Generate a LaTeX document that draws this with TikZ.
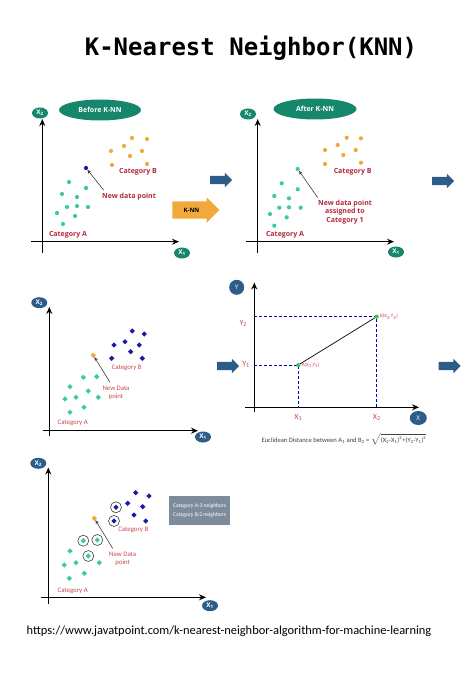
\documentclass[tikz,border=0pt]{standalone}
\usepackage{fontspec}
\setmainfont{Open Sans}
\newfontfamily\carlito{Carlito}
\newfontfamily\titlemono{DejaVu Sans Mono}
\usepackage{tikz}
\usetikzlibrary{positioning}
\usetikzlibrary{arrows,arrows.meta}
\usetikzlibrary{shapes.geometric,shapes.arrows}

\definecolor{knnteal}{RGB}{22,135,107}
\definecolor{knnmint}{RGB}{60,203,160}
\definecolor{knnorange}{RGB}{242,169,59}
\definecolor{knnred}{RGB}{179,38,62}
\definecolor{knnpink}{RGB}{200,70,78}
\definecolor{knnnavy}{RGB}{44,93,138}
\definecolor{knnblue}{RGB}{26,26,168}
\definecolor{knngrey}{RGB}{125,140,155}
\definecolor{knngreen}{RGB}{60,200,60}

\begin{document}
\begin{tikzpicture}[x=1pt,y=-1pt,
  axis/.style={line width=1.2pt,-{Stealth[length=7pt,width=6pt]}},
  pointer/.style={line width=0.6pt,draw=black!75,-{Stealth[length=4pt,width=3.5pt]}},
  tealtag/.style={ellipse,fill=knnteal,text=white,inner sep=0pt,minimum width=16pt,minimum height=11pt,font=\bfseries\fontsize{6.5}{6.5}\selectfont},
  navytag/.style={tealtag,fill=knnnavy},
  dot/.style={circle,inner sep=0pt,minimum size=4.2pt},
  gem/.style={diamond,inner sep=0pt,minimum size=5.5pt},
  boldlbl/.style={text=knnred,font=\bfseries\fontsize{7}{8.5}\selectfont,align=center},
  thinlbl/.style={text=knnpink,font=\carlito\fontsize{6.8}{8}\selectfont,align=center},
  guide/.style={draw=blue!70!black,line width=0.9pt,densely dashed},
  bluearrow/.style={single arrow,fill=knnnavy,inner xsep=0pt,inner ysep=4pt,minimum height=22pt,single arrow head extend=3pt}
]
\useasboundingbox (0,0) rectangle (474,679);

\node[font=\titlemono\bfseries\fontsize{24}{24}\selectfont] (title) at (251,48) {K-Nearest Neighbor(KNN)};

% before K-NN
\node[tealtag,minimum width=82pt,minimum height=21pt,font=\bfseries\fontsize{7}{7}\selectfont] (before) at (100,110) {Before K-NN};
\draw[axis] (42.3,253) -- (42.3,119);
\draw[axis] (31,241.7) -- (179,241.7);
\node[tealtag] (ya) at (40,113) {X\textsubscript{2}};
\node[tealtag] (xa) at (182,253) {X\textsubscript{1}};
\foreach \p in {(132,138),(147,139),(111,151),(124,146),(142,151),(130,156),(112,165),(147,164)}
  \node[dot,fill=knnorange] at \p {};
\foreach \p in {(69,182),(86,188),(62,194),(77,197),(67,207),(77,206),(88,207),(57,213),(75,216),(63,224)}
  \node[dot,fill=knnmint] at \p {};
\node[dot,fill=knnblue] (newa) at (86,168) {};
\node[boldlbl] (catba) at (138,172) {Category B};
\node[boldlbl] (catab) at (68,235) {Category A};
\node[boldlbl] (newlbla) at (129,197) {New data point};
\draw[pointer] ([xshift=5pt]newlbla.north west) -- (newa);

\node[single arrow,fill=knnorange,inner xsep=2pt,inner ysep=6pt,text height=5pt,text depth=0pt,minimum height=47pt,single arrow head extend=4pt,font=\bfseries\fontsize{6}{6}\selectfont] (knn) at (191.5,210) {K-NN};
\node[bluearrow] (arra) at (219,180) {};

% after K-NN
\node[tealtag,minimum width=83pt,minimum height=21pt,font=\bfseries\fontsize{7}{7}\selectfont] (after) at (315,109) {After K-NN};
\draw[axis] (257.7,253) -- (257.7,119);
\draw[axis] (246,241.7) -- (394,241.7);
\node[tealtag] (yb) at (248,114) {X\textsubscript{2}};
\node[tealtag] (xb) at (396,252) {X\textsubscript{1}};
\foreach \p in {(346.7,137.7),(361,138.3),(325,150),(337.7,145),(355.7,150),(343.3,155),(325,164),(361,162.7)}
  \node[dot,fill=knnorange] at \p {};
\foreach \p in {(281.7,183.3),(297.7,189.3),(274.3,196),(289,198.3),(279.3,207.7),(289,207.3),(300.7,207.7),(270,214),(286.7,217.3),(274.3,225.7)}
  \node[dot,fill=knnmint] at \p {};
\node[dot,fill=knnmint] (newb) at (297.7,169) {};
\node[boldlbl] (catbb) at (352.7,172.3) {Category B};
\node[boldlbl] (catab2) at (285,235) {Category A};
\node[boldlbl] (newlblb) at (345,212) {New data point\\assigned to\\Category 1};
\draw[pointer] ([xshift=3pt,yshift=-1pt]newlblb.north west) -- (newb);
\node[bluearrow] (arrb) at (441,181) {};

% diamonds
\draw[axis] (49.3,436) -- (49.3,307);
\draw[axis] (42.7,430.7) -- (198,430.7);
\node[navytag] (yc) at (39.3,302.7) {X\textsubscript{2}};
\node[navytag] (xc) at (203,437) {X\textsubscript{1}};
\foreach \p in {(132.3,331),(144.3,334),(114,345),(125,341.7),(139.3,345),(130.7,351.7),(111.7,358.3),(142.3,358.3)}
  \node[gem,fill=knnblue] at \p {};
\foreach \p in {(83.3,377.3),(96.7,376.7),(70,386.7),(88.3,391),(65,399),(76,397.3),(98.3,397.3),(84,407.3),(70,412.3)}
  \node[gem,fill=knnmint] at \p {};
\node[gem,fill=knnorange] (newc) at (93.3,355.3) {};
\node[thinlbl] (catbc) at (126.7,367.7) {Category B};
\node[thinlbl] (catac) at (72.7,423.3) {Category A};
\node[thinlbl] (newlblc) at (116,392.5) {New Data\\point};
\draw[pointer] ([xshift=-6pt]newlblc.north) -- (newc);
\node[bluearrow] (arrc) at (226,366) {};

% distance
\draw[axis] (254.3,411.7) -- (254.3,282.5);
\draw[axis] (245,407.3) -- (419,407.3);
\node[navytag,minimum width=15pt,minimum height=15pt,font=\fontsize{6.5}{6.5}\selectfont] (yd) at (236.7,287.3) {Y};
\node[navytag,minimum width=17pt,minimum height=14pt,font=\fontsize{6.5}{6.5}\selectfont] (xd) at (418.3,418) {X};
\draw[guide] (254.3,316.7) -- (376.7,316.7) -- (376.7,407.3);
\draw[guide] (254.3,365) -- (298.3,365) -- (298.3,407.3);
\node[dot,fill=knngreen] (pa) at (298.3,365) {};
\node[dot,fill=knngreen] (pb) at (376.7,316.7) {};
\draw[line width=0.7pt] (pa) -- (pb);
\node[right=0pt of pa,text=knnpink,font=\carlito\fontsize{5}{5}\selectfont,inner sep=1pt] (palbl) {A(X\textsubscript{1},Y\textsubscript{1})};
\node[right=0pt of pb,text=knnpink,font=\carlito\fontsize{5}{5}\selectfont,inner sep=1pt] (pblbl) {B(X\textsubscript{2},Y\textsubscript{2})};
\node[text=knnpink,font=\carlito\fontsize{8}{8}\selectfont] (y2) at (243.3,323.3) {Y\textsubscript{2}};
\node[text=knnpink,font=\carlito\fontsize{8}{8}\selectfont] (y1) at (246,364.5) {Y\textsubscript{1}};
\node[text=knnpink,font=\carlito\fontsize{8}{8}\selectfont] (x1) at (298.3,417) {X\textsubscript{1}};
\node[text=knnpink,font=\carlito\fontsize{8}{8}\selectfont] (x2) at (376.7,417) {X\textsubscript{2}};
\node[anchor=west,text=black!75,font=\carlito\fontsize{6.6}{6.6}\selectfont] (dist) at (258,439.3) {Euclidean Distance between A\textsubscript{1} and B\textsubscript{2} = $\sqrt{\mbox{(X\textsubscript{2}-X\textsubscript{1})\textsuperscript{2}+(Y\textsubscript{2}-Y\textsubscript{1})\textsuperscript{2}}}$};
\node[bluearrow] (arrd) at (447.5,366) {};

% neighbors
\draw[axis] (48.3,604) -- (48.3,467.5);
\draw[axis] (40.7,597.3) -- (206,597.3);
\node[navytag] (ye) at (38.3,463.3) {X\textsubscript{2}};
\node[navytag] (xe) at (210,605.7) {X\textsubscript{1}};
\foreach \p in {(135.7,492.7),(149,496),(116,507.3),(127.7,503.3),(142.7,506.7),(134,515),(114,521),(145.7,521)}
  \node[gem,fill=knnblue] at \p {};
\foreach \p in {(83.3,540.7),(97.3,540),(70,551),(88.3,556),(64.3,565),(76,562.7),(99.3,562.7),(84.3,573.3),(69.3,578.3)}
  \node[gem,fill=knnmint] at \p {};
\foreach \p in {(116,507.3),(114,521),(83.3,540.7),(97.3,540),(88.3,556)}
  \draw[black!75,line width=0.6pt] \p circle (5.5);
\node[gem,fill=knnorange] (newe) at (94.3,518.3) {};
\node[thinlbl] (catbe) at (133.3,530) {Category B};
\node[thinlbl] (catae) at (72.7,590.7) {Category A};
\node[thinlbl] (newlble) at (122.7,558.7) {New Data\\point};
\draw[pointer] ([xshift=-10pt]newlble.north) -- (newe);
\node[fill=knngrey,text=white,minimum width=61pt,minimum height=29pt,inner sep=1pt,align=left,font=\carlito\fontsize{5.6}{9}\selectfont] (tally) at (199.7,510.5) {Category A:3 neighbors\\Category B:2 neighbors};

\node[font=\carlito\fontsize{12.4}{12.4}\selectfont] (src) at (229,631.7) {https://www.javatpoint.com/k-nearest-neighbor-algorithm-for-machine-learning};
\end{tikzpicture}
\end{document}
